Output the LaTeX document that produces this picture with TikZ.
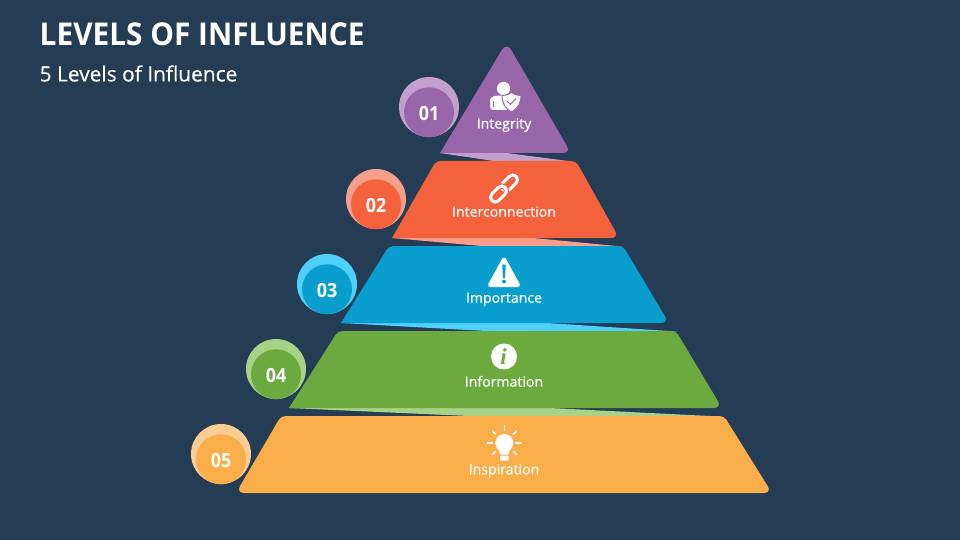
\documentclass[tikz,border=0pt]{standalone}
\usepackage{fontspec}
\setmainfont{Open Sans}
\newfontfamily\labf[FakeBold=0.35]{Open Sans}
\newfontfamily\titlef[FakeStretch=0.95]{Open Sans}
\newfontfamily\numf[FakeStretch=0.92]{Open Sans}
\newfontfamily\serifi{Liberation Serif}
\definecolor{bgc}{HTML}{253C55}
\definecolor{pur}{HTML}{9966AA}\definecolor{purl}{HTML}{C29FCC}
\definecolor{red1}{HTML}{F4613D}\definecolor{redl}{HTML}{F79F8B}
\definecolor{blu}{HTML}{099ECE}\definecolor{blul}{HTML}{4FCFFB}
\definecolor{grn}{HTML}{6CA93F}\definecolor{grnl}{HTML}{A6D388}
\definecolor{yel}{HTML}{FAAE4A}\definecolor{yell}{HTML}{FBCD93}
\tikzset{
  lab/.style={text=white,inner sep=0pt,anchor=base,font=\labf\fontsize{14.1}{16}\selectfont},
  num/.style={text=white,inner sep=0pt,font=\numf\fontsize{19.5}{20}\selectfont\bfseries},
  ray/.style={draw=white,line width=1.5pt,line cap=round},
  linkbox/.style={draw=white,line width=3pt,rounded corners=4.7pt,rectangle,minimum width=18.7pt,minimum height=9.5pt,rotate=45,inner sep=0pt},
}
\newcommand{\badge}[6]{% name,x,y,light,dark,text
  \fill[#4] (#2,#3) circle[radius=30];
  \fill[#5] (#2,#3+5.3) circle[radius=25];
  \node[num] (#1) at (#2,#3+6.2) {#6};
}
\begin{document}
\begin{tikzpicture}[x=1pt,y=-1pt]
\useasboundingbox (0,0) rectangle (960,540);
\fill[bgc] (0,0) rectangle (960,540);
\node[anchor=west,inner sep=0pt,text=white,font=\titlef\fontsize{31.4}{36}\selectfont\bfseries] (title) at (39.5,34) {LEVELS OF INFLUENCE};
\node[anchor=west,inner sep=0pt,text=white,font=\labf\fontsize{20.9}{24}\selectfont] (subtitle) at (39.5,73.5) {5 Levels of Influence};
% badges
\badge{n1}{429}{107}{purl}{pur}{01}
\badge{n2}{376}{199}{redl}{red1}{02}
\badge{n3}{327}{284}{blul}{blu}{03}
\badge{n4}{276}{369}{grnl}{grn}{04}
\badge{n5}{221}{454}{yell}{yel}{05}
% slivers
\fill[purl] (440,153) -- (507,153) -- (572,161.5) -- (497,161.5) -- cycle;
\fill[redl] (392,238) -- (533,238) -- (622,246.5) -- (487,246.5) -- cycle;
\fill[blul] (341,323) -- (547,323) -- (677,331.5) -- (495,331.5) -- cycle;
\fill[grnl] (289,408) -- (550,408) -- (720,416.5) -- (480,416.5) -- cycle;
% tiers
\fill[pur] (500,153) [rounded corners=0pt] -- (440,153) [rounded corners=9pt] -- (506.6,42) [rounded corners=8pt] -- (571,153) -- cycle;
\fill[red1] (500,238) [rounded corners=0pt] -- (392,238) [rounded corners=4.5pt] -- (436,161) -- (576,161) [rounded corners=8pt] -- (619,238) -- cycle;
\fill[blu] (500,323) [rounded corners=0pt] -- (341,323) [rounded corners=4.5pt] -- (389,246) -- (623,246) [rounded corners=8pt] -- (669,323) -- cycle;
\fill[grn] (500,408) [rounded corners=0pt] -- (289,408) [rounded corners=4.5pt] -- (338,331) -- (676,331) [rounded corners=8pt] -- (722,408) -- cycle;
\fill[yel] (500,493) [rounded corners=8pt] -- (236,493) [rounded corners=4.5pt] -- (281,416) -- (724,416) [rounded corners=8pt] -- (772,493) -- cycle;
% person + shield
\fill[white] (503.5,88.5) circle[radius=6.6];
\fill[white,rounded corners=3pt] (490,110) -- (490,103) .. controls (490,98) and (494,96) .. (498,95.5) -- (509,95.5) -- (513,110) -- cycle;
\fill[pur] (493,107.5) rectangle (494,101);
\fill[white,draw=pur,line width=1pt] (511.5,92.5) .. controls (515,95) and (518,95.5) .. (521,95.5) .. controls (521,103) and (518,108.5) .. (511.5,112) .. controls (505,108.5) and (502,103) .. (502,95.5) .. controls (505,95.5) and (508,95) .. (511.5,92.5) -- cycle;
\draw[pur,line width=1pt,line cap=round] (507.5,101.5) -- (510.5,104.5) -- (516,98.5);
% chain
\node[linkbox] (chainA) at (509.5,183) {};
\node[linkbox,draw=red1,line width=5pt] (chainH) at (498.5,194) {};
\node[linkbox] (chainB) at (498.5,194) {};
% warning
\fill[white,draw=white,line width=4pt,line join=round] (504,259.5) -- (518,285) -- (490,285) -- cycle;
\fill[blu] (502.2,264.5) -- (505.8,264.5) -- (505,278) -- (503,278) -- cycle;
\fill[blu] (504,281.5) circle[radius=2];
% info
\fill[white] (504,356.5) circle[radius=13];
\node[inner sep=0pt,text=grn,font=\serifi\fontsize{23}{24}\selectfont\itshape\bfseries] (infoi) at (503.5,356.5) {i};
% bulb
\fill[white] (504.3,443) circle[radius=9];
\fill[white] (498.5,449) -- (510,449) -- (508.5,454.5) -- (500,454.5) -- cycle;
\fill[white,rounded corners=1pt] (500,455.5) rectangle (508.5,460.5);
\draw[ray] (504.3,425.5) -- (504.3,430);
\draw[ray] (487.5,443) -- (492.5,443);
\draw[ray] (516,443) -- (521,443);
\draw[ray] (492.5,431) -- (495.5,434);
\draw[ray] (516.5,431) -- (513.5,434);
\draw[ray] (492.5,454.5) -- (495.5,451.5);
\draw[ray] (516.5,454.5) -- (513.5,451.5);
% labels
\node[lab] (l1) at (504,128.5) {Integrity};
\node[lab] (l2) at (504,216.7) {Interconnection};
\node[lab] (l3) at (504,302.7) {Importance};
\node[lab] (l4) at (504,386.7) {Information};
\node[lab] (l5) at (504,474.3) {Inspiration};
\end{tikzpicture}
\end{document}
